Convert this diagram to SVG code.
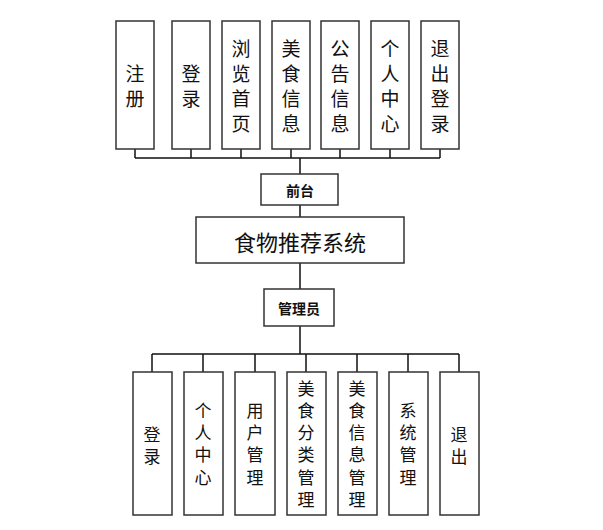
<svg xmlns="http://www.w3.org/2000/svg" width="603" height="530" viewBox="0 0 603 530">
<style>
rect{fill:#fff;stroke:#333;stroke-width:1.5}
text{font-family:"Noto Sans CJK SC","Noto Sans CJK JP",sans-serif;fill:#111;text-anchor:middle;dominant-baseline:central}
.t{font-size:19px}.b{font-size:17px}.h{font-size:14px;font-weight:bold}
#conn path{fill:none;stroke:#111;stroke-width:1.5}
</style>
<rect x="0" y="0" width="603" height="530" style="fill:#fff;stroke:none"/>
<g id="conn"><path d="M135 149V158M191 149V158M241 149V158M291 149V158M340 149V158M390 149V158M440 149V158M135 158H440M300 158V174M300 205V217M300 263V289M300 326V354M152 354H459M152 354V372M203 354V372M255 354V372M306 354V372M357 354V372M408 354V372M459 354V372"/></g>
<g id="t1"><rect x="116" y="21" width="38" height="128"/><text class="t" x="135" y="72">注</text><text class="t" x="135" y="97">册</text></g>
<g id="t2"><rect x="172" y="21" width="38" height="128"/><text class="t" x="191" y="72">登</text><text class="t" x="191" y="97">录</text></g>
<g id="t3"><rect x="222" y="21" width="38" height="128"/><text class="t" x="241" y="47">浏</text><text class="t" x="241" y="72">览</text><text class="t" x="241" y="97">首</text><text class="t" x="241" y="122">页</text></g>
<g id="t4"><rect x="272" y="21" width="38" height="128"/><text class="t" x="291" y="47">美</text><text class="t" x="291" y="72">食</text><text class="t" x="291" y="97">信</text><text class="t" x="291" y="122">息</text></g>
<g id="t5"><rect x="321" y="21" width="38" height="128"/><text class="t" x="340" y="47">公</text><text class="t" x="340" y="72">告</text><text class="t" x="340" y="97">信</text><text class="t" x="340" y="122">息</text></g>
<g id="t6"><rect x="371" y="21" width="38" height="128"/><text class="t" x="390" y="47">个</text><text class="t" x="390" y="72">人</text><text class="t" x="390" y="97">中</text><text class="t" x="390" y="122">心</text></g>
<g id="t7"><rect x="421" y="21" width="38" height="128"/><text class="t" x="440" y="47">退</text><text class="t" x="440" y="72">出</text><text class="t" x="440" y="97">登</text><text class="t" x="440" y="122">录</text></g>
<g id="qt"><rect x="261" y="174" width="77" height="31"/><text class="h" x="300" y="190">前台</text></g>
<g id="sys"><rect x="196" y="217" width="208" height="46"/><text x="300" y="241" style="font-size:22px">食物推荐系统</text></g>
<g id="adm"><rect x="264" y="289" width="70" height="37"/><text class="h" x="299" y="308">管理员</text></g>
<g id="b1"><rect x="133" y="372" width="39" height="143"/><text class="b" x="152" y="433">登</text><text class="b" x="152" y="455">录</text></g>
<g id="b2"><rect x="184" y="372" width="39" height="143"/><text class="b" x="203" y="409">个</text><text class="b" x="203" y="431">人</text><text class="b" x="203" y="453">中</text><text class="b" x="203" y="476">心</text></g>
<g id="b3"><rect x="235" y="372" width="40" height="143"/><text class="b" x="255" y="409">用</text><text class="b" x="255" y="431">户</text><text class="b" x="255" y="453">管</text><text class="b" x="255" y="476">理</text></g>
<g id="b4"><rect x="287" y="372" width="39" height="143"/><text class="b" x="306" y="387">美</text><text class="b" x="306" y="409">食</text><text class="b" x="306" y="431">分</text><text class="b" x="306" y="453">类</text><text class="b" x="306" y="476">管</text><text class="b" x="306" y="498">理</text></g>
<g id="b5"><rect x="338" y="372" width="39" height="143"/><text class="b" x="357" y="387">美</text><text class="b" x="357" y="409">食</text><text class="b" x="357" y="431">信</text><text class="b" x="357" y="453">息</text><text class="b" x="357" y="476">管</text><text class="b" x="357" y="498">理</text></g>
<g id="b6"><rect x="389" y="372" width="39" height="143"/><text class="b" x="408" y="409">系</text><text class="b" x="408" y="431">统</text><text class="b" x="408" y="453">管</text><text class="b" x="408" y="476">理</text></g>
<g id="b7"><rect x="440" y="372" width="39" height="143"/><text class="b" x="459" y="433">退</text><text class="b" x="459" y="455">出</text></g>
</svg>
